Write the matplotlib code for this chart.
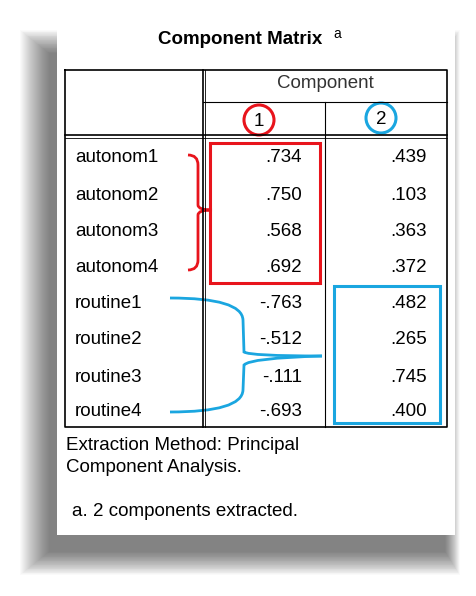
import matplotlib
matplotlib.use('Agg')
import matplotlib.pyplot as plt
from matplotlib.patches import Rectangle, Circle
from matplotlib.path import Path
from matplotlib.patches import PathPatch

variables = ['autonom1', 'autonom2', 'autonom3', 'autonom4',
             'routine1', 'routine2', 'routine3', 'routine4']
comp1 = ['.734', '.750', '.568', '.692', '-.763', '-.512', '-.111', '-.693']
comp2 = ['.439', '.103', '.363', '.372', '.482', '.265', '.745', '.400']
components = ['1', '2']

fig = plt.figure(figsize=(4.77, 5.96), dpi=100)
ax = fig.add_axes([0, 0, 1, 1])
ax.set_xlim(0, 477)
ax.set_ylim(596, 0)
ax.axis('off')

# soft shadow around the card
for i in range(30):
    ax.add_patch(Rectangle((20 + i, 30 + i * 0.8), 440 - 1.5 * i, 545 - 1.6 * i,
                           color='black', alpha=0.018, lw=0))
ax.add_patch(Rectangle((57, 0), 398, 535, color='white', lw=0))

ft = dict(fontsize=13.5, family='Liberation Sans')
ax.text(240, 40, 'Component Matrix', ha='center', va='center',
        fontweight='bold', fontsize=13.5, family='Liberation Sans')
ax.text(333, 34, 'a', ha='left', va='center', fontsize=10, family='Liberation Sans')

# table lines
L, M, R, T, B = 65, 203, 447, 70, 427
C = 325
lw = 1.2
ax.plot([L, R, R, L, L], [T, T, B, B, T], color='black', lw=lw)
ax.plot([M, M], [T, B], color='black', lw=lw)
ax.plot([M + 2, M + 2], [T, B], color='black', lw=0.6)
ax.plot([M, R], [102, 102], color='black', lw=0.8)
ax.plot([L, R], [135, 135], color='black', lw=lw)
ax.plot([L, R], [138, 138], color='black', lw=0.6)
ax.plot([C, C], [102, B], color='black', lw=0.8)

ax.text(325, 84, 'Component', ha='center', va='center', color='#333333', **ft)
ax.text(259, 121, components[0], ha='center', va='center', **ft)
ax.text(381, 119, components[1], ha='center', va='center', **ft)

ys = [158, 195, 232, 268, 304, 340, 377, 411]
for y, v, a, b in zip(ys, variables, comp1, comp2):
    ax.text(75, y, v, ha='left', va='center', **ft)
    ax.text(302, y, a, ha='right', va='center', **ft)
    ax.text(427, y, b, ha='right', va='center', **ft)

ax.text(66, 445, 'Extraction Method: Principal', ha='left', va='center', **ft)
ax.text(66, 468, 'Component Analysis.', ha='left', va='center', **ft)
ax.text(72, 512, 'a. 2 components extracted.', ha='left', va='center', **ft)

# annotations
red, blue = '#e8141c', '#1aa6e0'
ax.add_patch(Circle((259, 120), 15, fill=False, ec=red, lw=2.2))
ax.add_patch(Circle((381, 118), 15, fill=False, ec=blue, lw=2.2))
ax.add_patch(Rectangle((210, 143), 110, 140, fill=False, ec=red, lw=2.2))
ax.add_patch(Rectangle((334, 286), 106, 137, fill=False, ec=blue, lw=2.2))

# red brace
verts = [(188, 155), (198, 155), (198, 165), (198, 205), (198, 210), (212, 210),
         (198, 210), (198, 215), (198, 260), (198, 270), (188, 270)]
codes = [Path.MOVETO, Path.CURVE3, Path.CURVE3, Path.LINETO, Path.CURVE3, Path.CURVE3,
         Path.CURVE3, Path.CURVE3, Path.LINETO, Path.CURVE3, Path.CURVE3]
ax.add_patch(PathPatch(Path(verts, codes), fill=False, ec=red, lw=2))

# blue connectors
verts = [(170, 298), (242, 298), (243, 320), (244, 352), (250, 356), (322, 356)]
codes = [Path.MOVETO, Path.CURVE3, Path.CURVE3, Path.LINETO, Path.CURVE3, Path.CURVE3]
ax.add_patch(PathPatch(Path(verts, codes), fill=False, ec=blue, lw=2))
verts = [(170, 412), (242, 412), (243, 390), (244, 365), (250, 358), (322, 356)]
ax.add_patch(PathPatch(Path(verts, codes), fill=False, ec=blue, lw=2))

fig.savefig('out.png', dpi=100)
